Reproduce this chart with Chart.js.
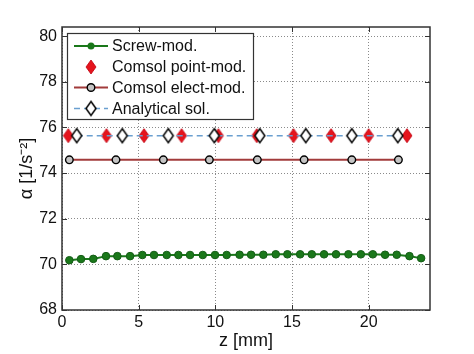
<!DOCTYPE html>
<html>
<head>
<meta charset="utf-8">
<script src="https://cdn.jsdelivr.net/npm/chart.js@4/dist/chart.umd.min.js"></script>
<style>
  html, body { margin: 0; padding: 0; background: #fff; }
  #wrap { width: 474px; height: 354px; }
</style>
</head>
<body>
<div id="wrap"><canvas id="c" width="474" height="354"></canvas></div>
<script>
// Données
const xTicks = [0, 5, 10, 15, 20];
const yTicks = [68, 70, 72, 74, 76, 78, 80];

const screwZ = [0.48, 1.24, 2.04, 2.87, 3.61, 4.44, 5.24, 6.00, 6.83, 7.59,
  8.35, 9.18, 9.98, 10.74, 11.58, 12.33, 13.13, 13.94, 14.70, 15.53,
  16.29, 17.09, 17.87, 18.68, 19.49, 20.27, 21.07, 21.83, 22.66, 23.42];
const screwA = [70.18, 70.23, 70.24, 70.36, 70.36, 70.36, 70.41, 70.41, 70.41, 70.41,
  70.41, 70.41, 70.41, 70.41, 70.42, 70.42, 70.42, 70.44, 70.44, 70.44,
  70.44, 70.44, 70.44, 70.44, 70.44, 70.44, 70.42, 70.42, 70.36, 70.27];

const pointZ = [0.41, 2.9, 5.35, 7.8, 10.2, 12.7, 15.1, 17.55, 20.0, 22.5];
const pointA = [75.64, 75.64, 75.64, 75.64, 75.64, 75.64, 75.64, 75.64, 75.64, 75.64];

const electZ = [0.48, 3.52, 6.61, 9.61, 12.74, 15.79, 18.9, 21.94];
const electA = [74.58, 74.58, 74.58, 74.58, 74.58, 74.58, 74.58, 74.58];

const analZ = [0.96, 3.93, 6.93, 9.93, 12.9, 15.9, 18.9, 21.9];
const analA = [75.64, 75.64, 75.64, 75.64, 75.64, 75.64, 75.64, 75.64];

const labels = ['Screw-mod.', 'Comsol point-mod.', 'Comsol elect-mod.', 'Analytical sol.'];

const GREEN = '#1a781a';
const RED = '#e5141c';
const MAROON = '#a23b3b';
const BLUE = '#6a9fd0';
const FONT = '"Liberation Sans", Arial, sans-serif';

// Marqueurs (losanges façon Matlab, plus hauts que larges)
function diamond(w, h, fill, stroke, lw) {
  const c = document.createElement('canvas');
  c.width = w + 4; c.height = h + 4;
  const g = c.getContext('2d');
  const cx = c.width / 2, cy = c.height / 2;
  g.beginPath();
  g.moveTo(cx, cy - h / 2);
  g.lineTo(cx + w / 2, cy);
  g.lineTo(cx, cy + h / 2);
  g.lineTo(cx - w / 2, cy);
  g.closePath();
  g.fillStyle = fill; g.fill();
  if (stroke) { g.lineWidth = lw; g.strokeStyle = stroke; g.stroke(); }
  return c;
}
const redDiamond = diamond(10, 14, RED, '#c00010', 0.8);
const whiteDiamond = diamond(10, 14, '#fff', '#000', 1.5);

function pts(xs, ys) {
  return xs.map((x, i) => ({ x, y: ys[i] }));
}

// Légende, cadre et graduations intérieures
const matlabLook = {
  id: 'matlabLook',
  afterDraw(chart) {
    const { ctx, chartArea: a } = chart;
    const xs = chart.scales.x, ys = chart.scales.y;
    ctx.save();
    // cadre
    ctx.strokeStyle = '#333';
    ctx.lineWidth = 1.5;
    ctx.strokeRect(a.left, a.top, a.right - a.left, a.bottom - a.top);
    // graduations
    ctx.lineWidth = 1;
    xTicks.forEach(v => {
      const px = Math.round(xs.getPixelForValue(v)) + 0.5;
      ctx.beginPath();
      ctx.moveTo(px, a.bottom); ctx.lineTo(px, a.bottom - 5);
      ctx.moveTo(px, a.top); ctx.lineTo(px, a.top + 5);
      ctx.stroke();
    });
    yTicks.forEach(v => {
      const py = Math.round(ys.getPixelForValue(v)) + 0.5;
      ctx.beginPath();
      ctx.moveTo(a.left, py); ctx.lineTo(a.left + 5, py);
      ctx.moveTo(a.right, py); ctx.lineTo(a.right - 5, py);
      ctx.stroke();
    });

    // légende
    const bx = 67, by = 33, bw = 186, bh = 86;
    ctx.fillStyle = '#fff';
    ctx.fillRect(bx, by, bw, bh);
    ctx.strokeStyle = '#333';
    ctx.lineWidth = 1.2;
    ctx.strokeRect(bx + 0.5, by + 0.5, bw, bh);
    const rows = [46, 67, 87.5, 108.5];
    const l0 = 74, l1 = 108, mx = 91;
    ctx.font = '16px ' + FONT;
    ctx.textBaseline = 'middle';
    rows.forEach((ry, i) => {
      if (i === 0) {
        ctx.strokeStyle = GREEN; ctx.lineWidth = 2; ctx.setLineDash([]);
        ctx.beginPath(); ctx.moveTo(l0, ry); ctx.lineTo(l1, ry); ctx.stroke();
        ctx.fillStyle = GREEN;
        ctx.beginPath(); ctx.arc(mx, ry, 3.5, 0, Math.PI * 2); ctx.fill();
      } else if (i === 1) {
        ctx.drawImage(redDiamond, mx - redDiamond.width / 2, ry - redDiamond.height / 2);
      } else if (i === 2) {
        ctx.strokeStyle = MAROON; ctx.lineWidth = 2; ctx.setLineDash([]);
        ctx.beginPath(); ctx.moveTo(l0, ry); ctx.lineTo(l1, ry); ctx.stroke();
        ctx.fillStyle = '#c4c4c4'; ctx.strokeStyle = '#000'; ctx.lineWidth = 1.4;
        ctx.beginPath(); ctx.arc(mx, ry, 3.8, 0, Math.PI * 2); ctx.fill(); ctx.stroke();
      } else {
        ctx.strokeStyle = BLUE; ctx.lineWidth = 1.5; ctx.setLineDash([6, 4]);
        ctx.beginPath(); ctx.moveTo(l0, ry); ctx.lineTo(l1, ry); ctx.stroke();
        ctx.setLineDash([]);
        ctx.drawImage(whiteDiamond, mx - whiteDiamond.width / 2, ry - whiteDiamond.height / 2);
      }
      ctx.fillStyle = '#111';
      ctx.textAlign = 'left';
      ctx.fillText(labels[i], 112, ry + 1);
    });

    // titres des axes
    ctx.fillStyle = '#111';
    ctx.font = '18px ' + FONT;
    ctx.textAlign = 'center';
    ctx.textBaseline = 'middle';
    ctx.fillText('z [mm]', (a.left + a.right) / 2, 341);
    ctx.translate(27, (a.top + a.bottom) / 2);
    ctx.rotate(-Math.PI / 2);
    ctx.fillText('\u03b1 [1/s\u207b\u00b2]', 0, 0);
    ctx.restore();
  }
};

const ctx = document.getElementById('c').getContext('2d');
new Chart(ctx, {
  type: 'line',
  data: {
    datasets: [
      {
        label: labels[3], data: pts(analZ, analA), order: 0,
        borderColor: BLUE, borderWidth: 1.5, borderDash: [6, 4],
        pointStyle: whiteDiamond, pointRadius: 6
      },
      {
        label: labels[1], data: pts(pointZ, pointA), order: 1,
        showLine: false, pointStyle: redDiamond, pointRadius: 6
      },
      {
        label: labels[2], data: pts(electZ, electA), order: 2,
        borderColor: MAROON, borderWidth: 2,
        pointRadius: 3.8, pointBackgroundColor: '#c4c4c4',
        pointBorderColor: '#000', pointBorderWidth: 1.4
      },
      {
        label: labels[0], data: pts(screwZ, screwA), order: 3,
        borderColor: GREEN, borderWidth: 2,
        pointRadius: 3.8, pointBackgroundColor: GREEN,
        pointBorderColor: '#155c17', pointBorderWidth: 1
      }
    ]
  },
  options: {
    responsive: false,
    animation: false,
    layout: { padding: { top: 27, right: 44, left: 0, bottom: 0 } },
    plugins: { legend: { display: false }, tooltip: { enabled: false } },
    scales: {
      x: {
        type: 'linear', min: 0, max: 24,
        afterBuildTicks: s => { s.ticks = xTicks.map(v => ({ value: v })); },
        afterFit: s => { s.height = 44; },
        grid: { color: '#8a8a8a', lineWidth: 1, drawTicks: false },
        border: { display: false, dash: [1, 2] },
        ticks: { color: '#111', padding: 3, font: { size: 16, family: FONT } }
      },
      y: {
        type: 'linear', min: 68, max: 80.4,
        afterBuildTicks: s => { s.ticks = yTicks.map(v => ({ value: v })); },
        afterFit: s => { s.width = 62; },
        grid: { color: '#8a8a8a', lineWidth: 1, drawTicks: false },
        border: { display: false, dash: [1, 2] },
        ticks: { color: '#111', padding: 5, font: { size: 16, family: FONT } }
      }
    }
  },
  plugins: [matlabLook]
});
</script>
</body>
</html>
